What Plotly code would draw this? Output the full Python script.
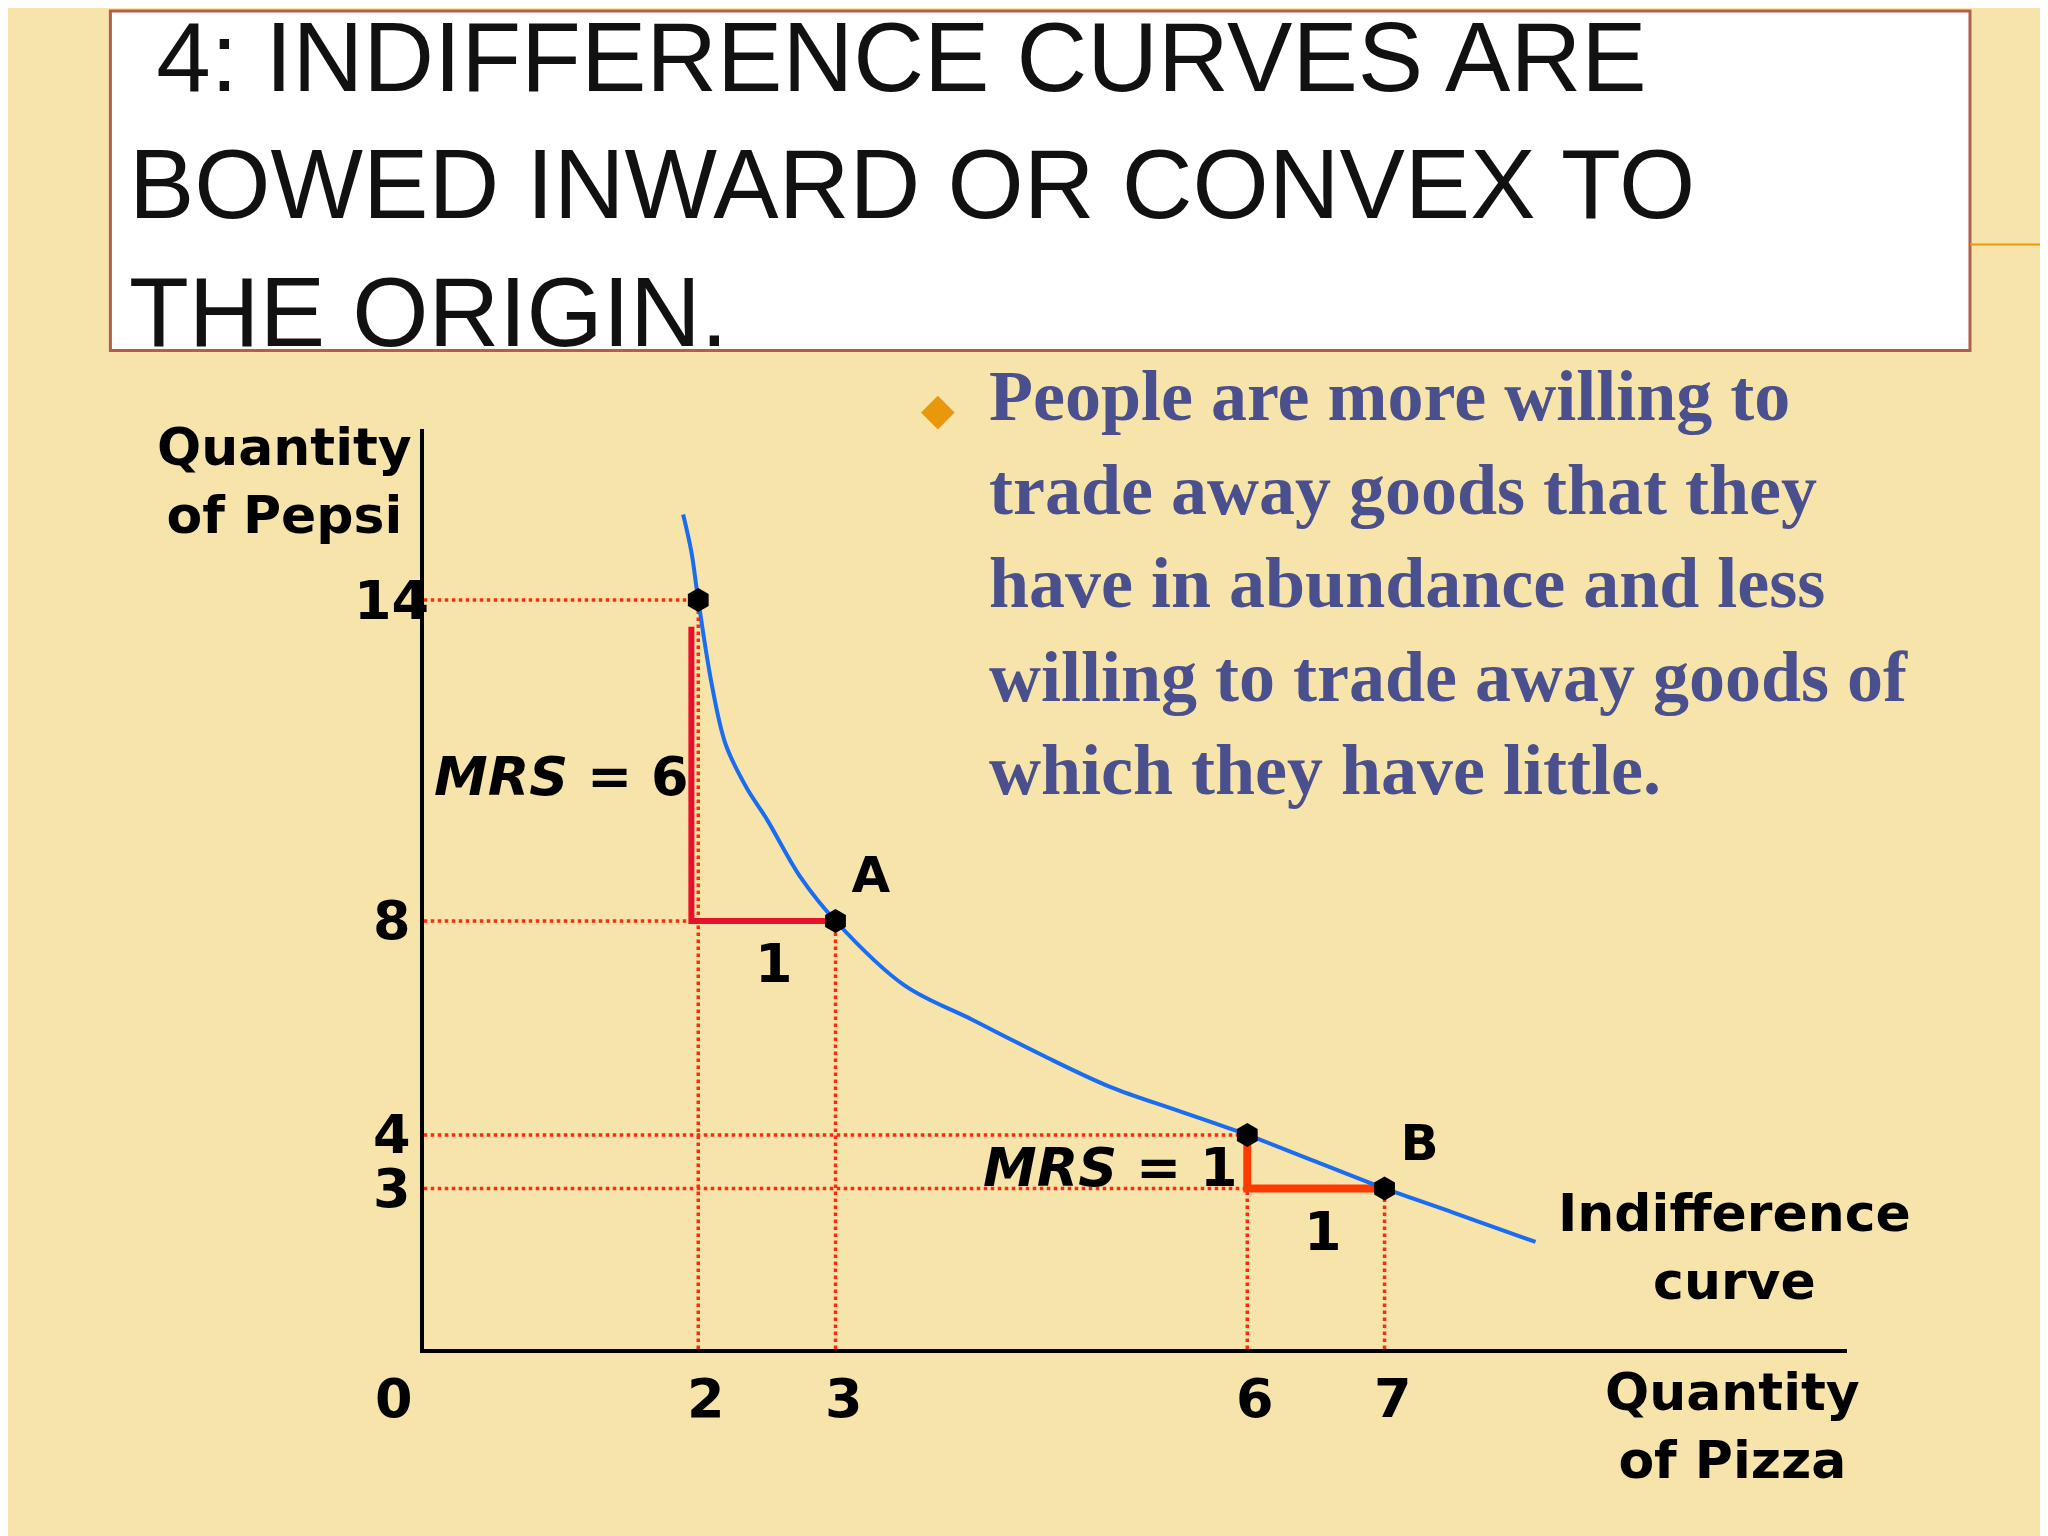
import plotly.graph_objects as go

curve_x = [1.89, 1.95, 2.0, 2.1, 2.2, 2.35, 2.5, 2.75, 3.0, 3.5, 4.0, 4.5, 5.0, 5.5, 6.0, 6.5, 7.0, 7.5, 8.1]
curve_y = [15.6, 14.9, 14.0, 12.4, 11.3, 10.5, 9.9, 8.8, 8.0, 6.8, 6.15, 5.5, 4.9, 4.45, 4.0, 3.5, 3.0, 2.55, 2.0]
pts_x = [2, 3, 6, 7]
pts_y = [14, 8, 4, 3]
pt_labels = ["", "<b>A</b>", "", "<b>B</b>"]
xticks = [0, 2, 3, 6, 7]
yticks = [14, 8, 4, 3]

W, H = 2048, 1536
fig = go.Figure()
dot = dict(color="#ff2a10", width=3.5, dash="dot")
for x, y in zip(pts_x, pts_y):
    fig.add_trace(go.Scatter(x=[0, x], y=[y, y], mode="lines", line=dot, hoverinfo="skip"))
    fig.add_trace(go.Scatter(x=[x, x], y=[0, y], mode="lines", line=dot, hoverinfo="skip"))
fig.add_trace(go.Scatter(x=[pts_x[0] - 0.05, pts_x[0] - 0.05, pts_x[1]], y=[pts_y[0] - 0.5, pts_y[1], pts_y[1]],
                         mode="lines", line=dict(color="#e8102a", width=6)))
fig.add_trace(go.Scatter(x=[pts_x[2], pts_x[2], pts_x[3]], y=[pts_y[2], pts_y[3], pts_y[3]],
                         mode="lines", line=dict(color="#ff3a00", width=8)))
fig.add_trace(go.Scatter(x=curve_x, y=curve_y, mode="lines", line=dict(color="#1a6cf0", width=4, shape="spline")))
fig.add_trace(go.Scatter(x=pts_x, y=pts_y, mode="markers+text", text=pt_labels, textposition="top right",
                         textfont=dict(family="DejaVu Sans", size=50, color="black"),
                         marker=dict(symbol="hexagon", size=24, color="black")))

font_b = dict(family="DejaVu Sans", size=54, color="black")
ann = []
for t in xticks:
    ann.append(dict(x=t, y=0, xshift=(-30 if t == 0 else 8), yshift=-50, text=f"<b>{t}</b>",
                    showarrow=False, font=font_b))
for t in yticks:
    ann.append(dict(x=0, y=t, xshift=-32, text=f"<b>{t}</b>", showarrow=False, font=font_b))
lab = dict(family="DejaVu Sans", size=52, color="black")
ann += [
    dict(xref="paper", yref="paper", x=0.135, y=0.692, xanchor="center", yanchor="middle",
         text="<b>Quantity<br>of Pepsi</b>", showarrow=False, font=lab, align="center"),
    dict(xref="paper", yref="paper", x=0.842, y=0.077, xanchor="center", yanchor="middle",
         text="<b>Quantity<br>of Pizza</b>", showarrow=False, font=lab, align="center"),
    dict(x=9.55, y=1.9, text="<b>Indifference<br>curve</b>", showarrow=False, font=lab, align="center"),
    dict(x=1.0, y=10.7, text="<b><i>MRS</i> = 6</b>", showarrow=False, font=font_b),
    dict(x=2.55, y=7.2, text="<b>1</b>", showarrow=False, font=font_b),
    dict(x=5.0, y=3.4, text="<b><i>MRS</i> = 1</b>", showarrow=False, font=font_b),
    dict(x=6.55, y=2.2, text="<b>1</b>", showarrow=False, font=font_b),
    dict(xref="paper", yref="paper", x=0.058, y=1.005, xanchor="left", yanchor="top", align="left",
         text=" 4: INDIFFERENCE CURVES ARE<br>BOWED INWARD OR CONVEX TO<br>THE ORIGIN.", showarrow=False,
         font=dict(family="Liberation Sans", size=98, color="#111111")),
    dict(xref="paper", yref="paper", x=0.445, y=0.757, xanchor="left", yanchor="top", text="◆",
         showarrow=False, font=dict(family="DejaVu Sans", size=44, color="#e8980a")),
    dict(xref="paper", yref="paper", x=0.478, y=0.775, xanchor="left", yanchor="top", align="left",
         text="<b>People are more willing to<br>trade away goods that they<br>have in abundance and less<br>willing to trade away goods of<br>which they have little.</b>",
         showarrow=False, font=dict(family="Liberation Serif", size=72, color="#4a4f8e")),
]

shapes = [
    dict(type="rect", xref="paper", yref="paper", x0=0.05, x1=0.958, y0=0.777, y1=0.998,
         fillcolor="white", line=dict(color="#b0604a", width=3), layer="below"),
    dict(type="line", xref="paper", yref="paper", x0=0.958, x1=1.0, y0=0.846, y1=0.846,
         line=dict(color="#e8980a", width=2)),
]

fig.update_layout(
    width=W, height=H, margin=dict(l=0, r=0, t=0, b=0), showlegend=False,
    paper_bgcolor="#f6e4ab", plot_bgcolor="rgba(0,0,0,0)",
    xaxis=dict(domain=[0.203, 0.898], range=[0, 10.37], showgrid=False, zeroline=False,
               showticklabels=False, showline=True, linecolor="black", linewidth=4),
    yaxis=dict(domain=[0.127, 0.726], range=[0, 17.2], showgrid=False, zeroline=False,
               showticklabels=False, showline=True, linecolor="black", linewidth=4),
    annotations=ann, shapes=shapes,
)
fig.write_html("out.html")
